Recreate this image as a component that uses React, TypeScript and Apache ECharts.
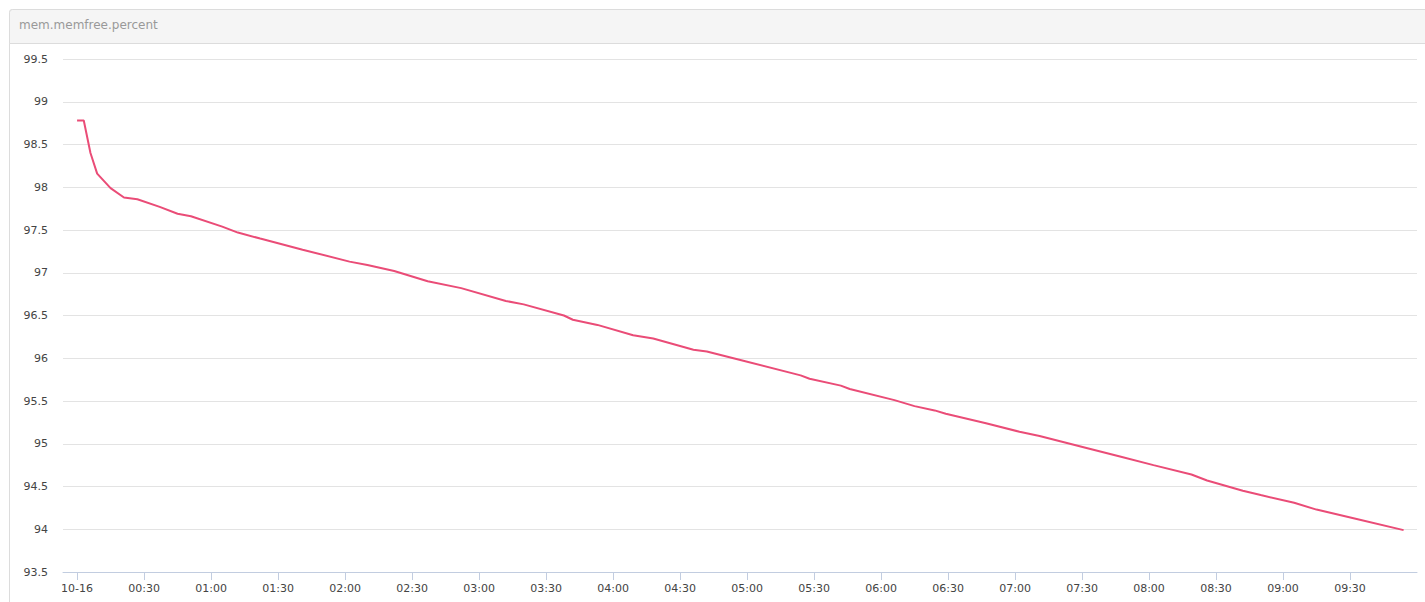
import React, { useEffect, useRef } from "react";
import * as echarts from "echarts";

// minutes since 10-16 00:00
const minutes = [0, 3, 6, 9, 15, 21, 27, 37, 45, 51, 65, 72, 82, 101, 122, 130, 142, 157, 172, 192, 200, 218, 222, 233, 249, 258, 276, 282, 297, 324, 328, 342, 346, 366, 375, 384, 389, 407, 422, 431, 452, 467, 482, 499, 506, 522, 530, 545, 555, 573, 594];
const memFree = [98.78, 98.78, 98.4, 98.16, 97.99, 97.88, 97.86, 97.77, 97.69, 97.66, 97.54, 97.47, 97.4, 97.27, 97.13, 97.09, 97.02, 96.9, 96.82, 96.67, 96.63, 96.5, 96.45, 96.39, 96.27, 96.23, 96.1, 96.08, 95.98, 95.8, 95.76, 95.68, 95.64, 95.51, 95.44, 95.39, 95.35, 95.24, 95.14, 95.09, 94.95, 94.85, 94.75, 94.64, 94.57, 94.45, 94.4, 94.31, 94.23, 94.12, 93.99];

const xTickValues = [0, 30, 60, 90, 120, 150, 180, 210, 240, 270, 300, 330, 360, 390, 420, 450, 480, 510, 540, 570];
const xTickLabels = ["10-16", "00:30", "01:00", "01:30", "02:00", "02:30", "03:00", "03:30", "04:00", "04:30", "05:00", "05:30", "06:00", "06:30", "07:00", "07:30", "08:00", "08:30", "09:00", "09:30"];

const TITLE = "mem.memfree.percent";

export default function App() {
  const ref = useRef<HTMLDivElement>(null);
  useEffect(() => {
    if (!ref.current) return;
    const chart = echarts.init(ref.current, null, { renderer: "svg" });
    const data = minutes.map((m, i) => [m, memFree[i]]);
    chart.setOption({
      animation: false,
      backgroundColor: "#fff",
      textStyle: { fontFamily: "DejaVu Sans" },
      graphic: [
        {
          type: "rect",
          shape: { x: 9.5, y: 9.5, width: 1440, height: 620, r: 3 },
          style: { fill: "#fff", stroke: "#dcdcdc", lineWidth: 1 },
          z: -10,
        },
        {
          type: "rect",
          shape: { x: 9.5, y: 9.5, width: 1440, height: 34, r: [3, 3, 0, 0] },
          style: { fill: "#f5f5f5", stroke: "#dcdcdc", lineWidth: 1 },
          z: -9,
        },
      ],
      title: {
        text: TITLE,
        left: 19,
        top: 19,
        padding: 0,
        textStyle: { fontSize: 12, fontWeight: "normal", color: "#999", fontFamily: "DejaVu Sans" },
      },
      grid: { left: 63, right: 8, top: 59, bottom: 30, containLabel: false },
      xAxis: {
        type: "value",
        min: -6.3,
        max: 600,
        axisLine: { show: true, lineStyle: { color: "#c2cde0", width: 1 } },
        axisTick: {
          show: true,
          length: 8,
          customValues: xTickValues,
          lineStyle: { color: "#c2cde0" },
        },
        axisLabel: {
          customValues: xTickValues,
          margin: 11,
          fontSize: 11,
          color: "#444",
          fontFamily: "DejaVu Sans",
          formatter: (v: number) => {
            const i = xTickValues.indexOf(Math.round(v));
            return i >= 0 ? xTickLabels[i] : "";
          },
        },
        splitLine: { show: false },
      },
      yAxis: {
        type: "value",
        min: 93.5,
        max: 99.5,
        interval: 0.5,
        axisLine: { show: false },
        axisTick: { show: false },
        axisLabel: { margin: 15, fontSize: 11, color: "#444", fontFamily: "DejaVu Sans" },
        splitLine: { show: true, lineStyle: { color: "#e3e3e3", width: 1 } },
      },
      series: [
        {
          type: "line",
          data,
          showSymbol: false,
          symbol: "none",
          lineStyle: { color: "#ea4c77", width: 2 },
          itemStyle: { color: "#ea4c77" },
        },
      ],
    });
    return () => chart.dispose();
  }, []);
  return (
    <div
      ref={ref}
      style={{ position: "fixed", left: 0, top: 0, width: 1425, height: 602 }}
    />
  );
}
